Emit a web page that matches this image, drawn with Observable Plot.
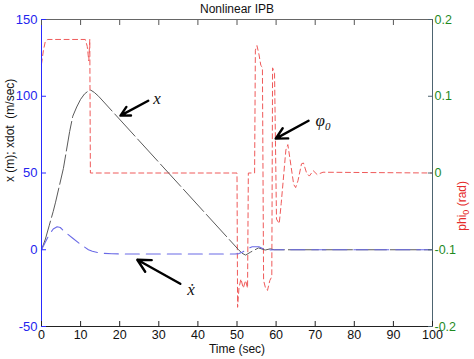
<!DOCTYPE html>
<html><head><meta charset="utf-8">
<script src="https://cdn.jsdelivr.net/npm/d3@7"></script>
<script src="https://cdn.jsdelivr.net/npm/@observablehq/plot@0.6"></script>
<style>body{margin:0;background:#fff} svg{display:block}</style>
</head><body><div id="chart"></div>
<script>
// ---- data ----
const xTime = [0,1,2,3,3.6,4.6,5.6,6.4,7.2,8,9,10,11,12,12.6,13.5,14.6,50.4,51.3,52.2,53.5,55.5,57.2,58.5,59.5,100];
const xPos  = [0,7,16,25,31,42,53,65,77,87,93,98,101.5,103.5,104,102.5,100,0,-2.3,-3.5,-1.5,1.2,-0.2,0.6,0,0];

const vTime = [0,1,2,3,4,4.8,6,8,10,12,13,15,18,22,49.5,50.5,51.3,52.6,53.9,55.6,56.8,57.8,58.6,59.5,100];
const vVals = [0,5,10,13.5,15,14.5,11.5,7.5,3.5,0,-1,-2.2,-2.6,-2.8,-2.8,-2.5,-1.7,0.5,2,2,0.5,0.5,-0.2,0,0];

const phiTime = [0,0.5,1,1.6,11.2,11.7,12.1,12.35,12.5,50.0,50.15,50.5,51,51.6,52.2,52.7,52.9,54.5,54.7,55.1,55.6,56.1,56.5,56.8,57.3,57.8,58.4,58.9,59.1,59.6,60.1,60.8,61.3,62.5,63,63.5,64.5,65,65.6,66.5,67,67.8,68.5,69.5,70.5,72,100];
const phiVals = [0.142,0.16,0.172,0.174,0.174,0.165,0.146,0.174,0,0,-0.175,-0.15,-0.138,-0.15,-0.14,-0.15,0,0,0.16,0.166,0.155,0.14,0.138,-0.14,-0.15,-0.153,-0.14,-0.135,0.137,0.13,-0.06,-0.066,-0.04,0.03,0.037,0.02,-0.015,-0.019,-0.01,0.012,0.013,0,-0.004,0.003,-0.002,0.001,0];

const xTicks = [0,10,20,30,40,50,60,70,80,90,100];
const leftTicks = [-50,0,50,100,150];
const leftTickLabels = ["-50","0","50","100","150"];
const rightTickLabels = ["-0.2","-0.1","0","0.1","0.2"];

const titleText = "Nonlinear IPB";
const xLabel = "Time (sec)";
const yLeftLabel = "x (m); xdot  (m/sec)";
const yRightLabel = "phi0 (rad)";

// annotations (data coordinates)
const noteText = ["x", "φ0", "ẋ"];
const noteX = [28.6, 70.1, 37.3];
const noteY = [98.2, 84.1, -26];
const arrowX1 = [27.3, 68.3, 35.5];
const arrowY1 = [97.1, 84, -22.2];
const arrowX2 = [20.2, 59.9, 24.5];
const arrowY2 = [87.4, 72.4, -6.5];

// right axis phi (rad) shares the left scale: phi 0.2 <-> 150, -0.2 <-> -50
const phiToLeft = p => p * 500 + 50;

const RED = "#ef5a5a", BLUE = "#6a6ae6", BLACK = "#5a5a5a";

const chart = Plot.plot({
  width: 474, height: 359,
  marginLeft: 41, marginRight: 42, marginTop: 19, marginBottom: 33,
  x: {domain: [0, 100]},
  y: {domain: [-50, 150]},
  style: {fontFamily: "'Liberation Sans', Arial, sans-serif", fontSize: "13px", background: "#fff", color: "#000"},
  marks: [
    Plot.frame({stroke: "#666"}),
    Plot.line(phiTime, {x: phiTime, y: phiVals.map(phiToLeft), stroke: RED, strokeWidth: 1, strokeDasharray: "5,3.5"}),
    Plot.line(xTime, {x: xTime, y: xPos, stroke: BLACK, strokeWidth: 1, strokeDasharray: "30,4"}),
    Plot.line(vTime, {x: vTime, y: vVals, stroke: BLUE, strokeWidth: 1.1, strokeDasharray: "14,7"}),
    Plot.ruleX([0], {stroke: "#2a2aff"}),
    Plot.ruleX([100], {stroke: "#4d6470"}),
    Plot.ruleY([-50], {stroke: "#222"}),
    Plot.axisX(xTicks, {anchor: "bottom", tickSize: -5, tickPadding: 9, stroke: "#222", fill: "#111", tickFormat: d => String(d), label: null, fontSize: 12.5}),
    Plot.axisX(xTicks, {anchor: "top", tickSize: -5, stroke: "#555", tickFormat: () => "", label: null}),
    Plot.axisY(leftTicks, {anchor: "left", tickSize: -5, tickPadding: 9, stroke: "#2a2aff", fill: "#2424ee", tickFormat: d => leftTickLabels[leftTicks.indexOf(d)], label: null, fontSize: 13}),
    Plot.axisY(leftTicks, {anchor: "right", tickSize: -5, tickPadding: 7, stroke: "#4d6470", fill: "#1f8a1f", tickFormat: d => rightTickLabels[leftTicks.indexOf(d)], label: null, fontSize: 12.5}),
    Plot.text([titleText], {text: d => d, frameAnchor: "top", dy: -15, fontSize: 12, fill: "#111"}),
    Plot.text([xLabel], {text: d => d, frameAnchor: "bottom", dy: 26, fontSize: 12, fill: "#111"}),
    Plot.text([yLeftLabel], {text: d => d, frameAnchor: "left", rotate: -90, dx: -31, dy: 9, fontSize: 12, fill: "#111"}),
    Plot.text([yRightLabel], {text: d => d, frameAnchor: "right", rotate: -90, dx: 30, dy: 8, fontSize: 12, fill: "#e52a2a"}),
    Plot.arrow(noteText, {x1: arrowX1, y1: arrowY1, x2: arrowX2, y2: arrowY2, stroke: "#000", strokeWidth: 2.4, headLength: 9, headAngle: 55}),
    Plot.text(noteText, {x: noteX, y: noteY, text: d => d, textAnchor: "start", fontFamily: "'Liberation Serif', 'DejaVu Serif', serif", fontStyle: "italic", fontSize: 17, fill: "#111"})
  ]
});

// subscripts
chart.querySelectorAll("text").forEach(t => {
  if (t.textContent === yRightLabel) {
    t.innerHTML = 'phi<tspan dy="3" font-size="9">0</tspan><tspan dy="-3"> (rad)</tspan>';
  } else if (t.textContent === "φ0") {
    t.innerHTML = 'φ<tspan dy="4" font-size="11">0</tspan>';
  }
});

document.getElementById("chart").appendChild(chart);
</script>
</body></html>
